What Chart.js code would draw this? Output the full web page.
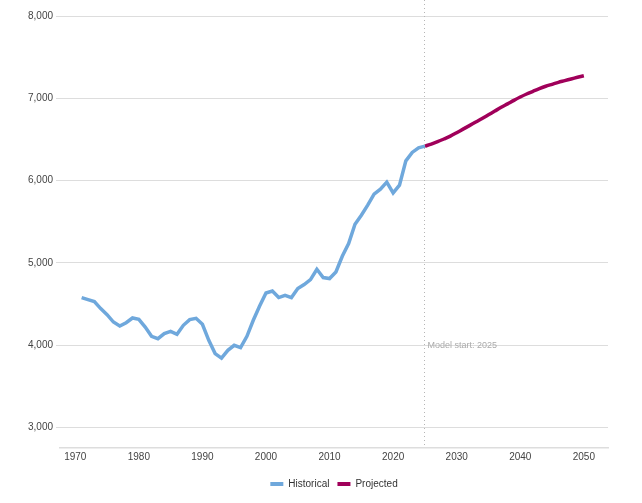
<!DOCTYPE html>
<html>
<head>
<meta charset="utf-8">
<script src="https://cdn.jsdelivr.net/npm/chart.js@4"></script>
<style>
  html, body { margin: 0; padding: 0; background: #fff; }
  #wrap { width: 642px; height: 503px; }
</style>
</head>
<body>
<div id="wrap"><canvas id="chart"></canvas></div>
<script>
const histYears = [1971, 1972, 1973, 1974, 1975, 1976, 1977, 1978, 1979, 1980,
  1981, 1982, 1983, 1984, 1985, 1986, 1987, 1988, 1989, 1990,
  1991, 1992, 1993, 1994, 1995, 1996, 1997, 1998, 1999, 2000,
  2001, 2002, 2003, 2004, 2005, 2006, 2007, 2008, 2009, 2010,
  2011, 2012, 2013, 2014, 2015, 2016, 2017, 2018, 2019, 2020,
  2021, 2022, 2023, 2024, 2025];
const histValues = [4578, 4553, 4529, 4444, 4371, 4281, 4232, 4273, 4330, 4314,
  4220, 4107, 4078, 4140, 4168, 4131, 4241, 4310, 4326, 4253,
  4058, 3897, 3843, 3937, 3998, 3970, 4107, 4302, 4476, 4634,
  4658, 4578, 4606, 4578, 4687, 4736, 4797, 4922, 4821, 4809,
  4889, 5080, 5235, 5470, 5579, 5701, 5835, 5895, 5981, 5850,
  5944, 6240, 6342, 6398, 6418];

const projYears = [2025, 2026, 2027, 2028, 2029, 2030, 2031, 2032, 2033, 2034,
  2035, 2036, 2037, 2038, 2039, 2040, 2041, 2042, 2043, 2044,
  2045, 2046, 2047, 2048, 2049, 2050];
const projValues = [6418, 6443, 6472, 6505, 6540, 6582, 6625, 6668, 6712, 6755,
  6800, 6845, 6890, 6932, 6975, 7015, 7052, 7085, 7117, 7146,
  7170, 7194, 7214, 7235, 7255, 7274];

const xTicks = [1970, 1980, 1990, 2000, 2010, 2020, 2030, 2040, 2050];
const yTicks = [3000, 4000, 5000, 6000, 7000, 8000];
const modelStart = 2025;

const toPoints = (xs, ys) => xs.map((x, i) => ({ x, y: ys[i] }));

// dotted marker line + label at model start
const modelStartLine = {
  id: 'modelStartLine',
  afterDatasetsDraw(chart) {
    const { ctx, chartArea, scales } = chart;
    const x = Math.round(scales.x.getPixelForValue(modelStart)) - 0.5;
    ctx.save();
    ctx.strokeStyle = '#b5b5b5';
    ctx.lineWidth = 1;
    ctx.setLineDash([1, 3]);
    ctx.beginPath();
    ctx.moveTo(x, 0);
    ctx.lineTo(x, chartArea.bottom);
    ctx.stroke();
    ctx.setLineDash([]);
    ctx.fillStyle = '#ababab';
    ctx.font = '9px "Liberation Sans", Arial, sans-serif';
    ctx.textBaseline = 'middle';
    ctx.fillText('Model start: ' + modelStart, x + 3, scales.y.getPixelForValue(4000));
    ctx.restore();
  }
};

Chart.defaults.font.family = '"Liberation Sans", Arial, sans-serif';

new Chart(document.getElementById('chart'), {
  type: 'line',
  data: {
    datasets: [
      {
        label: 'Historical',
        data: toPoints(histYears, histValues),
        borderColor: '#6fa8dc',
        backgroundColor: '#6fa8dc',
        borderWidth: 3.5,
        pointRadius: 0,
        tension: 0
      },
      {
        label: 'Projected',
        data: toPoints(projYears, projValues),
        borderColor: '#a0005a',
        backgroundColor: '#a0005a',
        borderWidth: 3.5,
        pointRadius: 0,
        tension: 0.3
      }
    ]
  },
  options: {
    responsive: true,
    maintainAspectRatio: false,
    animation: false,
    layout: { padding: { left: 25, right: 34, top: 16, bottom: 4 } },
    scales: {
      x: {
        type: 'linear',
        min: 1967.6,
        max: 2053.8,
        afterBuildTicks: (axis) => { axis.ticks = xTicks.map(v => ({ value: v })); },
        afterFit: (axis) => { axis.height += 5; },
        grid: { display: false, drawTicks: false },
        border: { color: '#dddddd', width: 1.5 },
        ticks: { color: '#444', font: { size: 10 }, padding: 3, callback: v => String(v) }
      },
      y: {
        min: 2750,
        max: 8000,
        afterBuildTicks: (axis) => { axis.ticks = yTicks.map(v => ({ value: v })); },
        grid: { color: '#dddddd', tickLength: 4 },
        border: { display: false },
        ticks: { color: '#444', font: { size: 10 }, padding: 3, callback: v => v.toLocaleString('en-US') }
      }
    },
    plugins: {
      legend: {
        position: 'bottom',
        fullSize: false,
        labels: {
          color: '#333',
          font: { size: 10 },
          boxWidth: 13,
          boxHeight: 4,
          padding: 8,
          generateLabels: (chart) => Chart.defaults.plugins.legend.labels.generateLabels(chart)
            .map(l => ({ ...l, lineWidth: 0 }))
        }
      },
      tooltip: { enabled: false }
    }
  },
  plugins: [modelStartLine]
});
</script>
</body>
</html>
